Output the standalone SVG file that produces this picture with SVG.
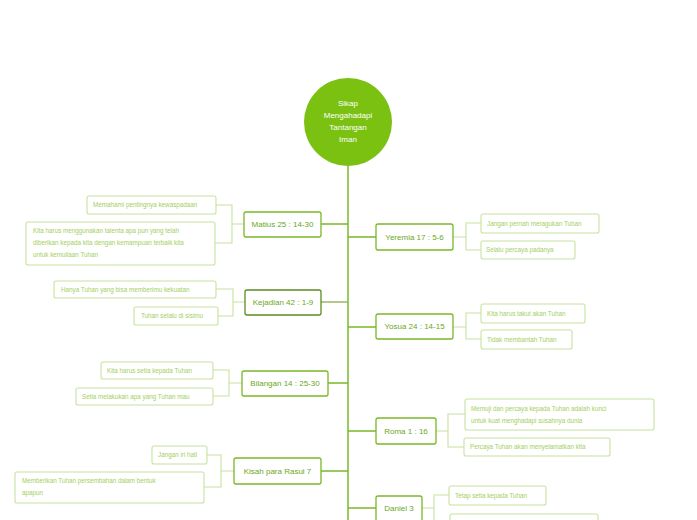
<svg xmlns="http://www.w3.org/2000/svg" width="697" height="520" viewBox="0 0 697 520">
<style>
.m{fill:#fff;stroke:#7ab828;stroke-width:1.3}
.md{fill:#fff;stroke:#5c8c1e;stroke-width:1.3}
.s{fill:#fff;stroke:#c8e29f;stroke-width:1.1}
.tm{font-family:"Liberation Sans",sans-serif;font-size:8px;fill:#6aa81c}
.ts{font-family:"Liberation Sans",sans-serif;font-size:6.3px;fill:#a3cf62}
.c{fill:none;stroke:#7ab828;stroke-width:1.5}
.cd{fill:none;stroke:#9ab56a;stroke-width:1.5}
.cs{fill:none;stroke:#c8e29f;stroke-width:1.1}
</style>
<rect width="697" height="520" fill="#fff"/>
<g id="connectors">
<path class="c" d="M348 166V520"/>
<path class="c" d="M321 224H348M328 383H348M321 471H348M348 237H376M348 327H376M348 431H376M348 508H376"/>
<path class="cd" d="M321 302H348"/>
<path class="cs" d="M244 224H232V205H216M232 224V243H215"/>
<path class="cs" d="M245 302H233V289H216M233 302V316H218"/>
<path class="cs" d="M242 383H229V370H213M229 383V396H213"/>
<path class="cs" d="M234 471H221V455H207M221 471V487H204"/>
<path class="cs" d="M453 237H466V223H481M466 237V250H481"/>
<path class="cs" d="M453 327H466V313H481M466 327V339H481"/>
<path class="cs" d="M436 431H448V414H465M448 431V447H464"/>
<path class="cs" d="M422 508H434V495H449M434 508V520"/>
</g>
<g id="center"><circle cx="348" cy="122" r="44" fill="#7ac111"/>
<text font-family="Liberation Sans,sans-serif" font-size="8px" fill="#fff" text-anchor="middle"><tspan x="348" y="106">Sikap</tspan><tspan x="348" y="118">Mengahadapi</tspan><tspan x="348" y="130">Tantangan</tspan><tspan x="348" y="142">Iman</tspan></text></g>
<g id="matius"><rect class="m" x="244" y="212" width="77" height="25" rx="2"/><text class="tm" x="282.5" y="227" text-anchor="middle">Matius 25 : 14-30</text></g>
<g id="kejadian"><rect class="md" x="245" y="290" width="76" height="25" rx="2"/><text class="tm" x="283" y="305" text-anchor="middle">Kejadian 42 : 1-9</text></g>
<g id="bilangan"><rect class="m" x="242" y="371" width="86" height="25" rx="2"/><text class="tm" x="285" y="386" text-anchor="middle">Bilangan 14 : 25-30</text></g>
<g id="kisah"><rect class="m" x="234" y="458" width="87" height="26" rx="2"/><text class="tm" x="277.5" y="474" text-anchor="middle">Kisah para Rasul 7</text></g>
<g id="yeremia"><rect class="m" x="376" y="224" width="77" height="26" rx="2"/><text class="tm" x="414.5" y="240" text-anchor="middle">Yeremia 17 : 5-6</text></g>
<g id="yosua"><rect class="m" x="376" y="314" width="77" height="25" rx="2"/><text class="tm" x="414.5" y="329" text-anchor="middle">Yosua 24 : 14-15</text></g>
<g id="roma"><rect class="m" x="376" y="418" width="60" height="26" rx="2"/><text class="tm" x="406" y="434" text-anchor="middle">Roma 1 : 16</text></g>
<g id="daniel"><rect class="m" x="376" y="496" width="46" height="26" rx="2"/><text class="tm" x="399" y="511" text-anchor="middle">Daniel 3</text></g>
<g id="s1"><rect class="s" x="87" y="196" width="129" height="18" rx="2"/><text class="ts" x="93" y="207">Memahami pentingnya kewaspadaan</text></g>
<g id="s2"><rect class="s" x="26" y="222" width="189" height="43" rx="2"/><text class="ts"><tspan x="33" y="233">Kita harus menggunakan talenta apa pun yang telah</tspan><tspan x="33" y="245">diberikan kepada kita dengan kemampuan terbaik kita</tspan><tspan x="33" y="257">untuk kemuliaan Tuhan</tspan></text></g>
<g id="s3"><rect class="s" x="54" y="281" width="162" height="17" rx="2"/><text class="ts" x="61" y="292">Hanya Tuhan yang bisa memberimu kekuatan</text></g>
<g id="s4"><rect class="s" x="134" y="307" width="84" height="18" rx="2"/><text class="ts" x="141" y="318">Tuhan selalu di sisimu</text></g>
<g id="s5"><rect class="s" x="101" y="362" width="112" height="17" rx="2"/><text class="ts" x="107" y="373">Kita harus setia kepada Tuhan</text></g>
<g id="s6"><rect class="s" x="76" y="388" width="137" height="17" rx="2"/><text class="ts" x="82" y="399">Setia melakukan apa yang Tuhan mau</text></g>
<g id="s7"><rect class="s" x="152" y="446" width="55" height="18" rx="2"/><text class="ts" x="158" y="457">Jangan iri hati</text></g>
<g id="s8"><rect class="s" x="15" y="472" width="189" height="31" rx="2"/><text class="ts"><tspan x="22" y="483">Memberikan Tuhan persembahan dalam bentuk</tspan><tspan x="22" y="495">apapun</tspan></text></g>
<g id="s9"><rect class="s" x="481" y="214" width="118" height="19" rx="2"/><text class="ts" x="487" y="226">Jangan pernah meragukan Tuhan</text></g>
<g id="s10"><rect class="s" x="481" y="241" width="94" height="18" rx="2"/><text class="ts" x="486" y="252">Selalu percaya padanya</text></g>
<g id="s11"><rect class="s" x="481" y="304" width="104" height="19" rx="2"/><text class="ts" x="487" y="316">Kita harus takut akan Tuhan</text></g>
<g id="s12"><rect class="s" x="481" y="330" width="91" height="19" rx="2"/><text class="ts" x="487" y="342">Tidak membantah Tuhan</text></g>
<g id="s13"><rect class="s" x="465" y="399" width="189" height="31" rx="2"/><text class="ts"><tspan x="471" y="411">Memuji dan percaya kepada Tuhan adalah kunci</tspan><tspan x="471" y="423">untuk kuat menghadapi susahnya dunia</tspan></text></g>
<g id="s14"><rect class="s" x="464" y="438" width="146" height="18" rx="2"/><text class="ts" x="470" y="449">Percaya Tuhan akan menyelamatkan kita</text></g>
<g id="s15"><rect class="s" x="449" y="486" width="97" height="19" rx="2"/><text class="ts" x="455" y="498">Tetap setia kepada Tuhan</text></g>
<g id="s16"><rect class="s" x="450" y="514" width="148" height="16" rx="2"/></g>
</svg>
